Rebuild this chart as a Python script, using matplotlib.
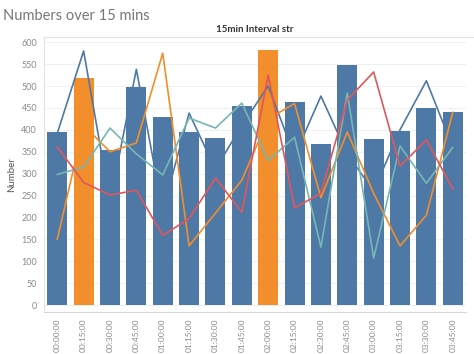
import matplotlib
matplotlib.use("Agg")
import matplotlib.pyplot as plt
import numpy as np

plt.rcParams['font.family'] = ['Lato', 'DejaVu Sans']

# data
intervals = ["00:00:00", "00:15:00", "00:30:00", "00:45:00", "01:00:00", "01:15:00",
             "01:30:00", "01:45:00", "02:00:00", "02:15:00", "02:30:00", "02:45:00",
             "03:00:00", "03:15:00", "03:30:00", "03:45:00"]
bar_values = [395, 519, 354, 497, 430, 396, 382, 455, 582, 463, 367, 547, 379, 397, 450, 440]
highlight = [False, True, False, False, False, False, False, False, True,
             False, False, False, False, False, False, False]

line_blue = [392, 580, 235, 538, 215, 438, 310, 410, 500, 340, 477, 345, 260, 400, 512, 360]
line_orange = [150, 410, 350, 370, 575, 135, 210, 285, 425, 460, 245, 395, 255, 135, 205, 440]
line_teal = [298, 315, 404, 345, 297, 427, 404, 461, 330, 383, 132, 484, 107, 363, 278, 360]
line_red = [361, 280, 251, 262, 159, 197, 290, 212, 525, 222, 255, 468, 532, 317, 377, 265]

yticks = list(range(0, 601, 50))

BLUE = "#4e79a7"
ORANGE = "#f28e2b"
TEAL = "#76b7b2"
RED = "#e15759"

fig = plt.figure(figsize=(4.74, 3.54), dpi=100)
ax = fig.add_axes([0.093, 0.1186, 0.890, 0.777])

x = np.arange(len(intervals))
colors = [ORANGE if h else BLUE for h in highlight]
ax.bar(x, bar_values, width=0.76, color=colors, zorder=2)

for vals, col in [(line_blue, BLUE), (line_orange, ORANGE), (line_teal, TEAL), (line_red, RED)]:
    ax.plot(x, vals, color=col, linewidth=1.2, zorder=3)

ax.set_xlim(-0.5, len(intervals) - 0.5)
ax.set_ylim(-16, 612)
ax.set_yticks(yticks)
ax.set_xticks(x)
ax.set_xticklabels(intervals, rotation=90, fontsize=6, color="#8a8a8a")
ax.tick_params(axis='y', labelsize=6.5, labelcolor="#8a8a8a", length=0, pad=5)
ax.tick_params(axis='x', length=0, pad=5)
ax.grid(axis='y', color="#f0f0f0", linewidth=0.8, zorder=0)
ax.set_axisbelow(True)

for side in ["top", "right"]:
    ax.spines[side].set_visible(False)
ax.spines["left"].set_color("#e2e2e2")
ax.spines["bottom"].set_color("#d8d8d8")
ax.spines["left"].set_linewidth(0.8)
ax.spines["bottom"].set_linewidth(0.8)

ax.set_ylabel("Number", fontsize=7, color="#555555", labelpad=4)

# header line and label
fig.add_artist(plt.Line2D([0.093, 1.0], [0.8955, 0.8955], color="#e2e2e2", linewidth=0.8))
fig.text(0.538, 0.903, "15min Interval str", fontsize=7, fontweight="bold",
         color="#333333", ha="center", va="bottom")

fig.text(0.006, 0.955, "Numbers over 15 mins", fontsize=10.5, color="#777777",
         ha="left", va="center")

fig.savefig("out.png", dpi=100)
